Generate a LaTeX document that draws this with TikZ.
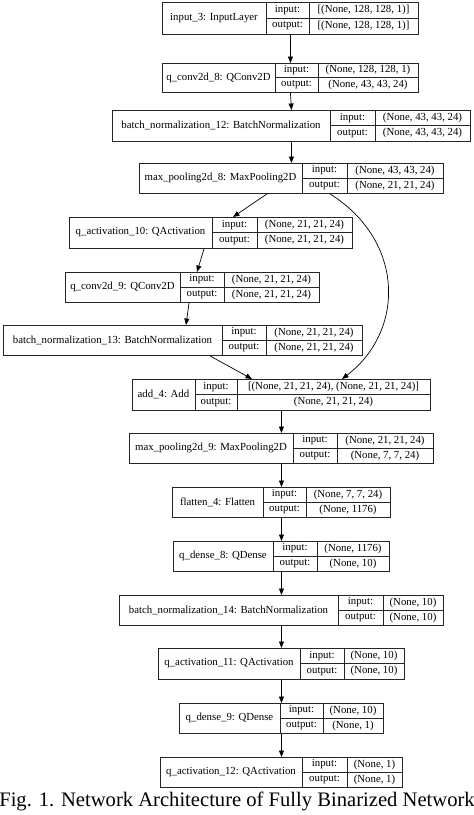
\documentclass[tikz,border=0pt]{standalone}
\usepackage{fontspec}
\setmainfont{Liberation Serif}
\usetikzlibrary{arrows.meta}
\tikzset{
  recbox/.style={draw=black!85, line width=0.9pt, inner sep=0pt, anchor=north west},
  recline/.style={draw=black!85, line width=0.9pt},
  rectext/.style={font=\fontsize{10.8}{12}\selectfont, inner sep=0pt},
  flow/.style={draw=black, line width=0.7pt, -{Triangle[length=6.5pt,width=5pt]}},
}
% name, x1, y1, x2, y2, s1, s2, label
\newcommand\rec[8]{%
  \def\rx{#2}\def\ry{#3}\def\rX{#4}\def\rY{#5}\def\rsa{#6}\def\rsb{#7}%
  \node[recbox, minimum width={(#4-#2)*1pt}, minimum height={(#5-#3)*1pt}] (#1) at (#2pt,-#3pt) {};
  \draw[recline] (#6pt,-#3pt) -- (#6pt,-#5pt);
  \draw[recline] (#7pt,-#3pt) -- (#7pt,-#5pt);
  \draw[recline] (#6pt,{-(#3+#5)/2*1pt}) -- (#4pt,{-(#3+#5)/2*1pt});
  \node[rectext] (#1-label) at ({(#2+#6)/2*1pt},{-(#3+#5)/2*1pt}) {#8};
}
\newcommand\io[2]{%
  \node[rectext] at ({(\rsa+\rsb)/2*1pt},{-(3*\ry+\rY)/4*1pt}) {input:};
  \node[rectext] at ({(\rsa+\rsb)/2*1pt},{-(\ry+3*\rY)/4*1pt}) {output:};
  \node[rectext] at ({(\rsb+\rX)/2*1pt},{-(3*\ry+\rY)/4*1pt}) {#1};
  \node[rectext] at ({(\rsb+\rX)/2*1pt},{-(\ry+3*\rY)/4*1pt}) {#2};
}
\begin{document}
\begin{tikzpicture}
\useasboundingbox (0,0) rectangle (474pt,-815pt);
\fill[white] (0,0) rectangle (474pt,-815pt);
\rec{b1}{162}{2}{418}{34}{266}{309}{input\_3: InputLayer}
\io{[(None, 128, 128, 1)]}{[(None, 128, 128, 1)]}
\rec{b2}{162}{63}{418}{92}{275}{318}{q\_conv2d\_8: QConv2D}
\io{(None, 128, 128, 1)}{(None, 43, 43, 24)}
\rec{b3}{112}{110}{470}{141}{330}{375}{batch\_normalization\_12: BatchNormalization}
\io{(None, 43, 43, 24)}{(None, 43, 43, 24)}
\rec{b4}{139}{163}{443}{193}{302}{347}{max\_pooling2d\_8: MaxPooling2D}
\io{(None, 43, 43, 24)}{(None, 21, 21, 24)}
\rec{b5}{69}{217}{352}{248}{212}{257}{q\_activation\_10: QActivation}
\io{(None, 21, 21, 24)}{(None, 21, 21, 24)}
\rec{b6}{65}{272}{319}{302}{180}{224}{q\_conv2d\_9: QConv2D}
\io{(None, 21, 21, 24)}{(None, 21, 21, 24)}
\rec{b7}{3}{325}{362}{355}{222}{266}{batch\_normalization\_13: BatchNormalization}
\io{(None, 21, 21, 24)}{(None, 21, 21, 24)}
\rec{b8}{132}{379}{430}{410}{195}{237}{add\_4: Add}
\io{[(None, 21, 21, 24), (None, 21, 21, 24)]}{(None, 21, 21, 24)}
\rec{b9}{129}{433}{433}{463}{293}{337}{max\_pooling2d\_9: MaxPooling2D}
\io{(None, 21, 21, 24)}{(None, 7, 7, 24)}
\rec{b10}{172}{487}{390}{517}{263}{306}{flatten\_4: Flatten}
\io{(None, 7, 7, 24)}{(None, 1176)}
\rec{b11}{173}{541}{389}{571}{273}{317}{q\_dense\_8: QDense}
\io{(None, 1176)}{(None, 10)}
\rec{b12}{119}{595}{443}{625}{338}{383}{batch\_normalization\_14: BatchNormalization}
\io{(None, 10)}{(None, 10)}
\rec{b13}{158}{648}{404}{679}{300}{344}{q\_activation\_11: QActivation}
\io{(None, 10)}{(None, 10)}
\rec{b14}{179}{703}{383}{733}{280}{323}{q\_dense\_9: QDense}
\io{(None, 10)}{(None, 1)}
\rec{b15}{160}{757}{402}{787}{302}{347}{q\_activation\_12: QActivation}
\io{(None, 1)}{(None, 1)}
% connectors
\draw[flow] (b1.south) -- (b2.north);
\draw[flow] (b2.south) -- (b3.north);
\draw[flow] (b3.south) -- (b4.north);
\draw[flow] ([xshift=128pt]b4.south west) -- ([xshift=164pt]b5.north west);
\draw[flow] ([xshift=135pt]b5.south west) -- ([xshift=132pt]b6.north west);
\draw[flow] ([xshift=124pt]b6.south west) -- ([xshift=183pt]b7.north west);
\draw[flow] ([xshift=207pt]b7.south west) -- ([xshift=120pt]b8.north west);
\draw[flow] ([xshift=191pt]b4.south west) .. controls +(75pt,-47pt) and +(63pt,48pt) .. ([xshift=210pt]b8.north west);
\draw[flow] (b8.south) -- (b9.north);
\draw[flow] (b9.south) -- (b10.north);
\draw[flow] (b10.south) -- (b11.north);
\draw[flow] (b11.south) -- (b12.north);
\draw[flow] (b12.south) -- (b13.north);
\draw[flow] (b13.south) -- (b14.north);
\draw[flow] (b14.south) -- (b15.north);
\node[font=\fontsize{20.6}{22}\selectfont, inner sep=0pt] (cap) at (237pt,-801pt) {Fig. 1. Network Architecture of Fully Binarized Network};
\end{tikzpicture}
\end{document}
